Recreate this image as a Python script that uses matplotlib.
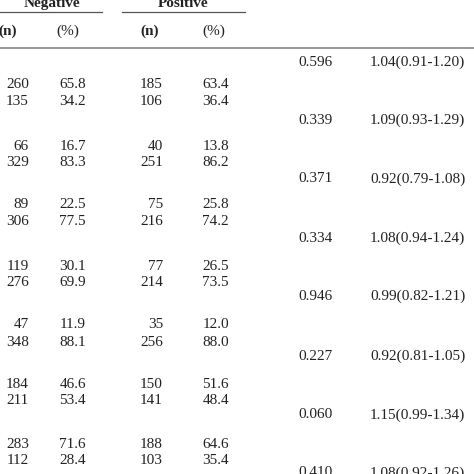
import matplotlib.pyplot as plt
from matplotlib.lines import Line2D

neg_n = [260, 135, 66, 329, 89, 306, 119, 276, 47, 348, 184, 211, 283, 112]
neg_pct = ["65.8", "34.2", "16.7", "83.3", "22.5", "77.5", "30.1", "69.9",
           "11.9", "88.1", "46.6", "53.4", "71.6", "28.4"]
pos_n = [185, 106, 40, 251, 75, 216, 77, 214, 35, 256, 150, 141, 188, 103]
pos_pct = ["63.4", "36.4", "13.8", "86.2", "25.8", "74.2", "26.5", "73.5",
           "12.0", "88.0", "51.6", "48.4", "64.6", "35.4"]
p_vals = ["0.596", "0.339", "0.371", "0.334", "0.946", "0.227", "0.060", "0.410"]
odds = ["1.04(0.91-1.20)", "1.09(0.93-1.29)", "0.92(0.79-1.08)", "1.08(0.94-1.24)",
        "0.99(0.82-1.21)", "0.92(0.81-1.05)", "1.15(0.99-1.34)", "1.08(0.92-1.26)"]

p_y = [62, 120, 179, 238, 296, 356, 415, 473]
row_y = [84, 101, 146, 162, 204, 221, 266, 283, 325, 342, 385, 401, 444, 460]

fig = plt.figure(figsize=(4.74, 4.74), dpi=100)
ax = fig.add_axes([0, 0, 1, 1])
ax.set_xlim(0, 474)
ax.set_ylim(474, 0)
ax.axis("off")

font = dict(family="Liberation Serif", fontsize=11, color="#222222", va="center")

ax.text(52, 3, "Negative", ha="center", fontweight="bold", **font)
ax.text(183, 3, "Positive", ha="center", fontweight="bold", **font)
ax.add_line(Line2D([0, 102], [12, 12], color="#555555", lw=0.9))
ax.add_line(Line2D([122, 245], [12, 12], color="#555555", lw=0.9))
ax.add_line(Line2D([0, 474], [48, 48], color="#888888", lw=1.2))
for x, s in [(8, "(n)"), (68, "(%)"), (150, "(n)"), (214, "(%)")]:
    ax.text(x, 31, s, ha="center", fontweight="bold" if s == "(n)" else "normal", **font)

for i, y in enumerate(row_y):
    ax.text(29, y, str(neg_n[i]), ha="right", **font)
    ax.text(86, y, neg_pct[i], ha="right", **font)
    ax.text(163, y, str(pos_n[i]), ha="right", **font)
    ax.text(229, y, pos_pct[i], ha="right", **font)

for y, p, o in zip(p_y, p_vals, odds):
    ax.text(298, y, p, ha="left", **font)
    ax.text(370, y, o, ha="left", **font)

fig.savefig("out.png", dpi=100)
